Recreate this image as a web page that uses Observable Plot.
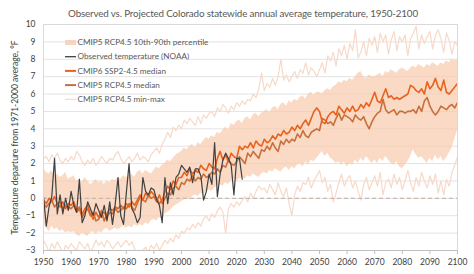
<!DOCTYPE html>
<html>
<head>
<meta charset="utf-8">
<script src="https://cdn.jsdelivr.net/npm/d3@7"></script>
<script src="https://cdn.jsdelivr.net/npm/@observablehq/plot@0.6"></script>
<style>
  body { margin: 0; background: #fff; font-family: Lato, "Open Sans", sans-serif; }
  #title { width: 474px; height: 20px; box-sizing: border-box; padding-top: 6px; padding-left: 12px; text-align: center;
           font-size: 9.8px; letter-spacing: -0.15px; line-height: 14px; color: #595959; white-space: nowrap; }
</style>
</head>
<body>
<div id="title">Observed vs. Projected Colorado statewide annual average temperature, 1950-2100</div>
<div id="chart"></div>
<script>
// Annual temperature departures (°F) from the 1971-2000 average.
const firstYear = 1950;

// NOAA observed statewide values, 1950-2022
const observed = [
  0.1, -1.6, -0.5, 0.1, 2.3, -0.9, 0.2, -0.9, 0.0, -0.7,
  0.4, -0.4, -0.8, 1.1, -1.4, -1.0, -0.2, -0.6, -1.0, -0.3,
  -0.7, -1.1, -0.4, -1.3, -0.2, -1.5, -0.3, 1.2, -1.0, -1.5,
  0.3, 2.0, -0.6, -0.9, -1.4, -1.1, 1.2, 0.4, 0.2, 0.6,
  0.5, -0.1, -0.4, -1.4, 1.2, -0.3, 0.9, 0.2, 1.2, 1.4,
  1.9, 1.7, 1.5, 1.8, 0.9, 1.7, 1.7, 1.3, -0.1, 0.4,
  1.4, 0.8, 3.2, 0.1, 1.4, 2.2, 2.6, 2.3, 1.9, 0.2,
  2.3, 2.3, 1.1
];

// CMIP6 SSP2-4.5 median, 1950-2100
const cmip6Median = [
  -0.1, -0.3, 0.0, -0.2, 0.1, -0.3, -0.5, -0.2, -0.6, -0.3,
  -0.4, -0.2, -0.7, -0.5, -0.9, -0.6, -0.4, -0.9, -1.2, -0.8,
  -1.1, -0.7, -1.3, -0.9, -0.6, -0.7, -0.5, -0.6, -0.4, -0.6,
  -0.3, -0.5, -0.2, -0.4, -0.1, 0.2, -0.1, 0.3, 0.1, 0.4,
  0.2, 0.0, -0.3, -0.1, 0.4, 0.7, 0.5, 1.0, 0.8, 1.2,
  1.2, 1.5, 1.3, 1.7, 1.4, 1.6, 1.5, 1.9, 1.7, 1.6,
  2.0, 1.8, 1.7, 2.3, 2.7, 2.2, 2.5, 2.1, 2.6, 2.4,
  2.3, 3.0, 2.8, 3.0, 2.9, 3.2, 2.9, 3.3, 3.1, 3.0,
  3.4, 3.2, 3.3, 3.6, 3.4, 3.7, 3.6, 3.9, 3.7, 3.8,
  4.1, 3.9, 4.2, 4.0, 4.3, 4.5, 4.2, 4.6, 5.0, 5.2,
  5.0, 4.4, 4.3, 4.7, 4.9, 5.0, 4.8, 5.3, 5.1, 4.9,
  5.2, 5.0, 5.3, 5.0, 5.1, 5.4, 5.2, 5.5, 5.3, 5.7,
  6.1, 5.6, 5.5, 5.9, 6.3, 5.8, 5.9, 5.7, 5.8, 5.7,
  5.8, 5.9, 6.0, 6.5, 6.4, 6.2, 6.1, 6.3, 6.0, 6.7,
  6.3, 6.5, 6.9, 6.4, 6.2, 6.8, 6.1, 6.0, 6.2, 6.4,
  6.6
];

// CMIP5 RCP4.5 median, 1950-2100
const cmip5Median = [
  -0.3, -0.5, -0.3, -0.1, -0.5, -0.3, -0.2, -0.6, -0.4, -0.5,
  -0.6, -0.4, -0.8, -0.6, -1.1, -0.8, -0.6, -1.0, -0.8, -1.3,
  -1.2, -0.9, -0.8, -1.1, -0.8, -0.9, -0.6, -0.8, -0.7, -0.5,
  -0.6, -0.3, -0.5, -0.7, -0.3, 0.1, -0.1, -0.2, 0.2, 0.0,
  0.1, -0.2, 0.2, -0.3, 0.0, 0.3, 0.2, 0.6, 0.7, 0.5,
  0.9, 0.8, 1.1, 1.0, 1.3, 1.0, 1.2, 1.1, 1.4, 1.2,
  1.3, 1.5, 1.4, 1.7, 1.5, 1.9, 1.8, 2.2, 2.0, 1.9,
  2.1, 2.4, 2.2, 2.0, 2.6, 2.4, 2.7, 2.5, 2.3, 2.8,
  2.7, 3.0, 2.8, 3.2, 2.9, 2.7, 3.3, 3.1, 3.4, 3.2,
  3.4, 3.3, 3.7, 3.5, 3.9, 3.6, 3.5, 3.8, 3.9, 4.0,
  3.9, 4.6, 4.5, 4.3, 4.4, 4.2, 4.6, 4.9, 4.5, 4.8,
  4.7, 4.6, 4.4, 4.8, 4.6, 4.5, 4.7, 4.3, 4.0, 4.4,
  4.7, 4.9, 5.0, 5.7, 5.1, 4.9, 5.0, 5.1, 4.8, 5.0,
  5.0, 4.9, 5.0, 5.0, 5.1, 4.9, 5.3, 5.0, 5.6, 5.8,
  5.3, 5.0, 4.8, 5.0, 5.3, 5.2, 5.1, 5.3, 5.4, 5.2,
  5.5
];

// CMIP5 RCP4.5 90th percentile, 1950-2100
const cmip5P90 = [
  1.7, 1.5, 1.4, 1.6, 1.3, 1.4, 1.2, 1.3, 1.5, 1.1,
  1.2, 1.3, 1.0, 1.1, 0.9, 1.2, 1.0, 0.8, 0.9, 1.1,
  0.9, 1.0, 0.8, 1.0, 0.9, 1.1, 1.0, 1.2, 1.1, 1.3,
  1.2, 1.3, 1.4, 1.2, 1.5, 1.6, 1.4, 1.6, 1.5, 1.4,
  1.6, 1.8, 1.7, 1.9, 2.0, 2.2, 2.1, 2.3, 2.5, 2.6,
  2.7, 2.9, 2.8, 3.0, 3.1, 2.9, 3.2, 3.1, 3.3, 3.5,
  3.4, 3.6, 3.5, 3.8, 3.7, 3.9, 4.1, 3.9, 4.3, 4.2,
  4.4, 4.5, 4.3, 4.6, 4.7, 4.5, 4.8, 4.9, 4.7, 4.9,
  5.0, 5.1, 4.9, 5.2, 5.3, 5.1, 5.4, 5.5, 5.3, 5.6,
  5.5, 5.7, 5.6, 5.8, 5.9, 5.7, 6.0, 6.1, 5.9, 6.1,
  6.1, 6.0, 6.2, 6.3, 6.2, 6.4, 6.5, 6.7, 6.6, 6.8,
  6.7, 6.9, 6.8, 7.0, 7.2, 7.3, 7.0, 6.9, 7.1, 7.0,
  7.0, 7.1, 7.2, 7.0, 7.3, 7.2, 7.4, 7.3, 7.2, 7.4,
  7.5, 7.4, 7.3, 7.5, 7.6, 7.5, 7.7, 7.6, 7.5, 7.7,
  7.6, 7.8, 7.7, 7.6, 7.8, 7.7, 7.9, 7.8, 8.0, 7.9,
  8.0
];

// CMIP5 RCP4.5 10th percentile, 1950-2100
const cmip5P10 = [
  -1.4, -1.7, -1.9, -1.6, -1.8, -1.7, -1.9, -1.8, -2.0, -1.9,
  -2.0, -1.9, -2.1, -2.2, -2.0, -2.1, -2.2, -2.0, -1.9, -2.1,
  -1.9, -2.0, -1.8, -1.7, -1.9, -1.8, -1.7, -1.8, -1.7, -1.6,
  -1.7, -1.6, -1.7, -1.5, -1.6, -1.5, -1.6, -1.4, -1.5, -1.3,
  -1.2, -1.3, -1.1, -1.2, -0.9, -0.8, -0.7, -0.5, -0.4, -0.3,
  -0.2, -0.1, 0.0, -0.1, 0.1, 0.2, 0.1, 0.3, 0.2, 0.4,
  0.5, 0.4, 0.6, 0.7, 0.8, 0.7, 0.9, 0.8, 1.0, 1.1,
  1.0, 1.1, 1.2, 1.1, 1.3, 1.2, 1.4, 1.3, 1.2, 1.4,
  1.5, 1.4, 1.6, 1.5, 1.7, 1.6, 1.5, 1.7, 1.8, 1.6,
  1.8, 1.7, 1.9, 2.0, 1.8, 2.1, 1.9, 2.2, 2.1, 2.3,
  2.5, 2.7, 2.4, 2.6, 2.3, 2.2, 2.0, 2.1, 1.9, 2.1,
  1.8, 2.0, 1.9, 2.2, 2.0, 2.3, 2.1, 2.4, 2.2, 2.0,
  2.2, 2.0, 2.3, 2.1, 2.4, 2.2, 2.0, 1.9, 2.1, 1.8,
  1.7, 1.9, 2.1, 2.4, 2.8, 2.5, 2.3, 2.4, 2.2, 2.0,
  2.3, 2.1, 2.5, 2.2, 2.4, 2.1, 2.3, 2.6, 2.9, 3.4,
  3.9
];

// CMIP5 RCP4.5 ensemble maximum, 1950-2100
const cmip5Max = [
  2.3, 2.4, 2.1, 2.5, 2.3, 2.6, 2.2, 2.0, 2.3, 2.1,
  2.4, 2.2, 2.7, 2.5, 2.1, 1.9, 2.2, 2.0, 2.3, 1.9,
  2.1, 2.4, 2.2, 2.0, 2.3, 2.2, 2.5, 2.7, 2.3, 2.0,
  2.2, 2.4, 2.1, 2.3, 2.6, 2.2, 2.4, 2.3, 2.1, 2.5,
  2.7, 2.9, 2.6, 3.1, 3.4, 3.8, 3.5, 4.1, 3.9, 4.2,
  4.0, 4.5, 4.3, 4.6, 4.4, 4.2, 4.7, 4.3, 4.8, 4.6,
  4.9, 5.0, 4.7, 5.2, 5.0, 5.4, 5.2, 4.9, 5.3, 5.1,
  5.5, 5.3, 5.6, 5.4, 5.7, 5.6, 6.0, 5.8, 6.3, 7.2,
  6.2, 6.6, 6.4, 6.9, 6.5, 7.0, 8.0, 6.8, 7.1, 6.7,
  7.0, 7.3, 6.9, 7.4, 7.2, 7.8, 7.1, 7.5, 7.3, 7.0,
  7.4, 7.8, 7.2, 8.2, 7.9, 8.4, 7.6, 8.6, 8.2, 8.8,
  8.0, 8.9, 8.5, 9.7, 8.1, 8.4, 9.0, 8.2, 9.2, 8.8,
  9.3, 8.4, 9.5, 9.0, 9.4, 8.3, 9.1, 9.6, 8.5, 9.3,
  9.0, 9.4, 8.2, 9.2, 9.5, 9.9, 8.6, 9.4, 8.9, 9.3,
  9.6, 8.6, 9.4, 9.7, 9.2, 8.4, 9.5, 9.1, 8.3, 9.0,
  8.8
];

// CMIP5 RCP4.5 ensemble minimum, 1950-2100
const cmip5Min = [
  -2.4, -2.7, -3.1, -2.6, -2.9, -2.5, -2.8, -3.2, -2.7, -2.9,
  -2.6, -2.8, -3.0, -2.5, -2.7, -2.9, -2.6, -3.1, -2.8, -2.4,
  -2.7, -2.5, -2.8, -2.4, -2.6, -2.9, -2.7, -2.5, -2.8, -2.6,
  -2.4, -2.7, -2.5, -2.9, -3.3, -3.5, -3.0, -2.8, -3.1, -2.7,
  -2.9, -2.6, -3.0, -2.7, -2.4, -2.6, -2.3, -2.5, -2.1, -2.3,
  -1.9, -2.0, -1.7, -1.8, -1.5, -1.7, -1.4, -1.6, -1.2, -1.0,
  -1.3, -0.9, -1.1, -0.7, -0.5, -0.8, -2.0, -0.6, -0.3, -0.5,
  -0.2, -0.4, -0.1, 0.1, -0.2, 0.3, 0.0, 0.4, 0.7, 0.5,
  0.6, 0.3, 0.8, 0.5, 0.2, 0.9, 0.4, 0.1, 0.6, -0.3,
  -1.0, 0.2, 0.7, 0.4, 0.9, 0.8, 1.2, 0.6, 1.0, 1.3,
  1.6, 0.9, 1.2, 0.4, 0.8, -0.2, 0.3, 0.9, 1.4, 0.7,
  1.1, 1.3, 0.6, 1.0, 0.4, -0.1, 0.8, 1.2, 0.5, 0.9,
  1.3, 0.7, 1.5, 0.2, 0.9, 1.1, 0.6, 1.4, 0.8, 1.2,
  0.5, 1.0, 1.6, 0.9, 0.4, 1.2, 0.7, 1.5, 1.0, 0.6,
  1.3, 0.8, 1.4, 0.3, 1.0, 0.2, 1.1, 0.7, 1.5, 1.9,
  2.4
];

const xTicks = [1950, 1960, 1970, 1980, 1990, 2000, 2010, 2020, 2030, 2040, 2050, 2060, 2070, 2080, 2090, 2100];
const yTicks = [-3, -2, -1, 0, 1, 2, 3, 4, 5, 6, 7, 8, 9, 10];
const yTitle = "Temperature departure from 1971-2000 average, °F";

const legendItems = [
  { label: "CMIP5 RCP4.5 10th-90th percentile", kind: "band", color: "#f8cbad" },
  { label: "Observed temperature (NOAA)", kind: "line", color: "#404040", width: 1.3 },
  { label: "CMIP6 SSP2-4.5 median", kind: "line", color: "#e8621d", width: 2 },
  { label: "CMIP5 RCP4.5 median", kind: "line", color: "#c8703d", width: 2 },
  { label: "CMIP5 RCP4.5 min-max", kind: "line", color: "#f7d9c8", width: 1.2 }
];

const toRows = (values) => values.map((value, i) => ({ year: firstYear + i, value }));
const bandRows = cmip5P10.map((lo, i) => ({ year: firstYear + i, lo, hi: cmip5P90[i] }));

const plot = Plot.plot({
  width: 474,
  height: 254,
  marginTop: 4,
  marginBottom: 24,
  marginLeft: 43,
  marginRight: 17,
  style: { fontFamily: "Lato, 'Open Sans', sans-serif", fontSize: "9px", background: "#fff" },
  x: { domain: [1950, 2100] },
  y: { domain: [-3, 10] },
  marks: [
    Plot.ruleY(yTicks, { stroke: "#e3e3e3", strokeWidth: 1 }),
    Plot.areaY(bandRows, { x: "year", y1: "lo", y2: "hi", fill: "#f8cbad", fillOpacity: 0.7, curve: "linear" }),
    Plot.line(toRows(cmip5Max), { x: "year", y: "value", stroke: "#f7d9c8", strokeWidth: 1.2, clip: true }),
    Plot.line(toRows(cmip5Min), { x: "year", y: "value", stroke: "#f7d9c8", strokeWidth: 1.2, clip: true }),
    Plot.ruleY([0], { stroke: "#c9b8b0", strokeWidth: 1.2, strokeDasharray: "4,3" }),
    Plot.line(toRows(cmip5Median), { x: "year", y: "value", stroke: "#c8703d", strokeWidth: 1.6 }),
    Plot.line(toRows(cmip6Median), { x: "year", y: "value", stroke: "#e8621d", strokeWidth: 1.6 }),
    Plot.line(toRows(observed), { x: "year", y: "value", stroke: "#404040", strokeWidth: 1.2 }),
    Plot.frame({ stroke: "#d9d9d9" }),
    Plot.ruleY([-3], { stroke: "#bfbfbf" }),
    Plot.axisX({ ticks: xTicks, tickFormat: (d) => String(d), tickSize: 4, tickPadding: 4,
                 stroke: "#bfbfbf", fill: "#404040", fontSize: 8.5, label: null }),
    Plot.axisY({ ticks: yTicks, tickSize: 0, tickPadding: 8, fill: "#404040", fontSize: 8.5, label: null }),
    Plot.text([yTitle], { frameAnchor: "left", rotate: -90, dx: -28, textAnchor: "middle",
                          fill: "#404040", fontSize: 8.5 })
  ]
});

document.getElementById("chart").appendChild(plot);

// Legend drawn inside the upper-left corner of the plot area
const svg = d3.select(plot);
const legend = svg.append("g").attr("transform", "translate(65, 22.5)");
legendItems.forEach((item, i) => {
  const g = legend.append("g").attr("transform", `translate(0, ${i * 14.2})`);
  if (item.kind === "band") {
    g.append("rect").attr("x", 0).attr("y", -2.5).attr("width", 11).attr("height", 5)
      .attr("fill", item.color).attr("fill-opacity", 0.8);
  } else {
    g.append("line").attr("x1", 0).attr("x2", 11).attr("y1", 0).attr("y2", 0)
      .attr("stroke", item.color).attr("stroke-width", item.width);
  }
  g.append("text").attr("x", 12.5).attr("y", 0).attr("dy", "0.34em").attr("text-anchor", "start")
    .attr("fill", "#595959").attr("font-size", 8.2).text(item.label);
});
</script>
</body>
</html>
